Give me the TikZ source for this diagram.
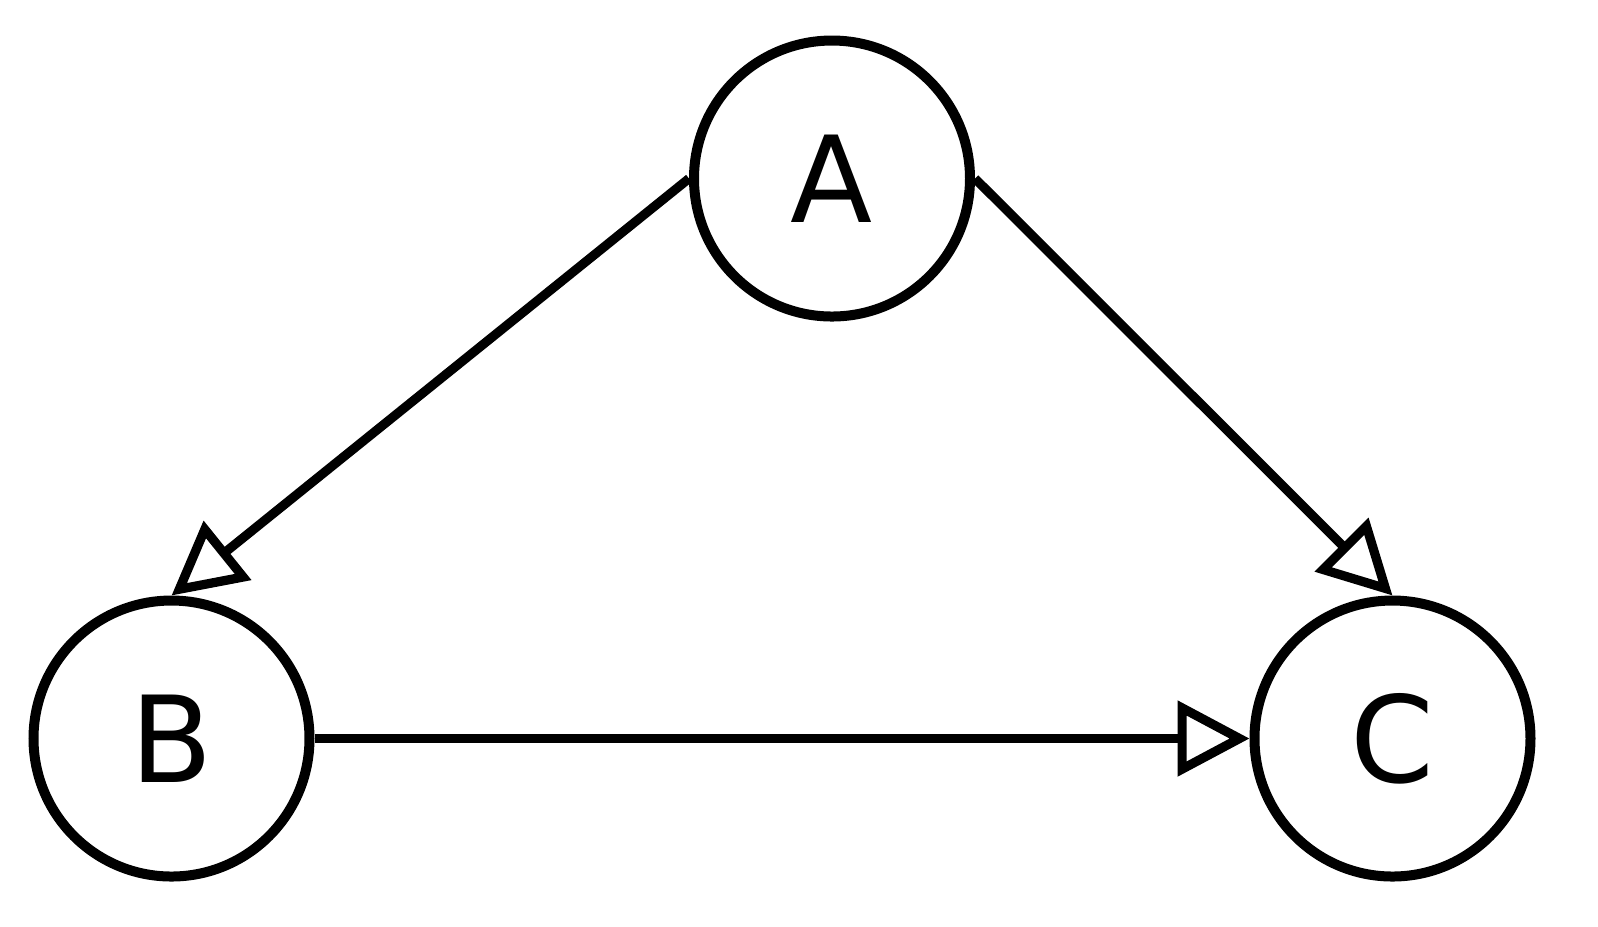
\documentclass[tikz,border=0pt]{standalone}
\usepackage{fontspec}
\setmainfont{DejaVu Sans}
\usepackage{tikz}
\usetikzlibrary{arrows.meta}

\begin{document}
\begin{tikzpicture}[x=0.25pt,y=0.25pt,yscale=-1,xscale=1,
  vertex/.style={draw,circle,line width=2.5pt,minimum size=69pt,inner sep=0pt,font=\fontsize{30}{34}\selectfont},
  link/.style={line width=2.3pt,-{Triangle[open,length=18pt,width=18.5pt,line width=2.3pt]}}]
\useasboundingbox (0,0) rectangle (1598,926);
% Vertices
\node [vertex] (nodeA) at (832,178.5) {A};
\node [vertex] (nodeB) at (171.5,738.5) {B};
\node [vertex] (nodeC) at (1392.5,738.5) {C};
%Straight Lines
\draw [link] (nodeA.west) -- (nodeB.north);
%Straight Lines
\draw [link] (nodeA.east) -- (nodeC.north);
%Straight Lines
\draw [link] (nodeB.east) -- (nodeC.west);
\end{tikzpicture}
\end{document}
